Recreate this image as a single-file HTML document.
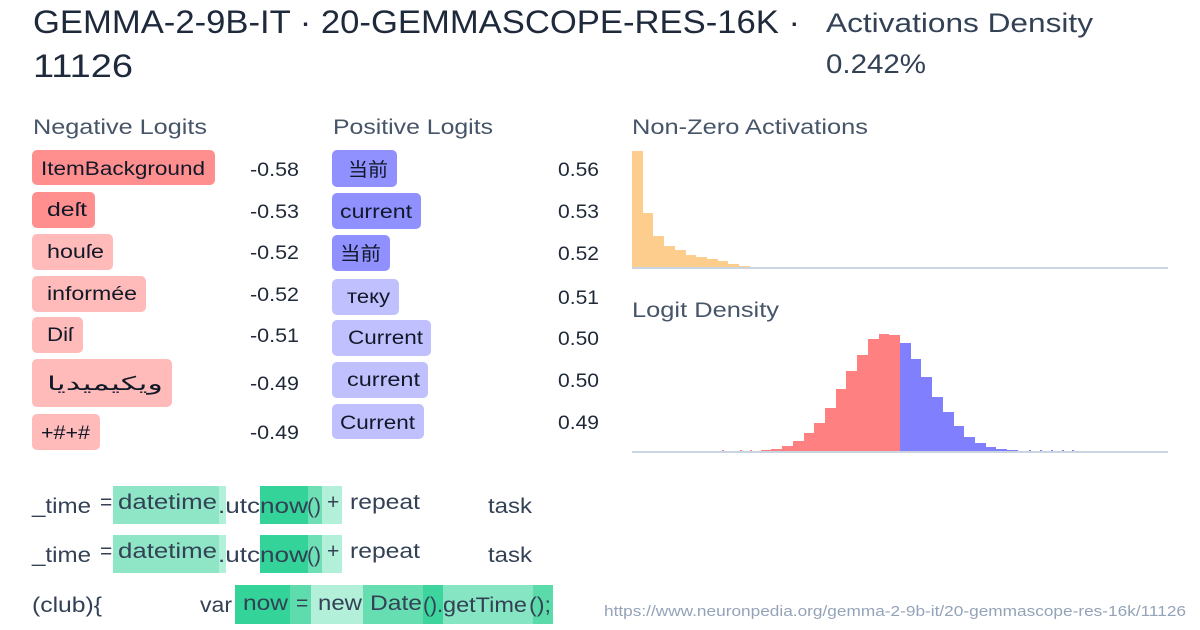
<!DOCTYPE html>
<html><head><meta charset="utf-8"><style>
html,body{margin:0;padding:0;background:#fff;width:1200px;height:630px;overflow:hidden}
svg{display:block}
text{font-family:"Liberation Sans","Noto Sans CJK SC","DejaVu Sans",sans-serif}
.t{fill:#1e293b}
.h{fill:#475569;font-size:21px}
.c{fill:#111827;font-size:19px}
.v{fill:#1f2937;font-size:19px}
.k{fill:#334155;font-size:21px}
</style></head><body>
<svg width="1200" height="630" viewBox="0 0 1200 630" xmlns="http://www.w3.org/2000/svg">
<text class="t" x="33" y="33" font-size="32" textLength="767" lengthAdjust="spacingAndGlyphs">GEMMA-2-9B-IT · 20-GEMMASCOPE-RES-16K ·</text>
<text class="t" x="33" y="77" font-size="32" textLength="100" lengthAdjust="spacingAndGlyphs">11126</text>
<text x="826" y="32" font-size="27" fill="#334155" textLength="267" lengthAdjust="spacingAndGlyphs">Activations Density</text>
<text x="826" y="73" font-size="27" fill="#334155" textLength="100" lengthAdjust="spacingAndGlyphs">0.242%</text>

<text class="h" x="33" y="134" textLength="174" lengthAdjust="spacingAndGlyphs">Negative Logits</text>
<text class="h" x="333" y="134" textLength="160" lengthAdjust="spacingAndGlyphs">Positive Logits</text>
<text class="h" x="632" y="134" textLength="236" lengthAdjust="spacingAndGlyphs">Non-Zero Activations</text>
<text class="h" x="632" y="317" textLength="147" lengthAdjust="spacingAndGlyphs">Logit Density</text>

<rect x="32" y="150" width="183" height="35" rx="5" fill="#ff8f8f"/>
<rect x="32" y="192" width="63" height="36" rx="5" fill="#ff8f8f"/>
<rect x="32" y="234" width="81" height="36" rx="5" fill="#ffbaba"/>
<rect x="32" y="276" width="114" height="36" rx="5" fill="#ffbaba"/>
<rect x="32" y="317" width="51" height="36" rx="5" fill="#ffbaba"/>
<rect x="32" y="359" width="140" height="48" rx="5" fill="#ffbaba"/>
<rect x="32" y="414" width="68" height="36" rx="5" fill="#ffbaba"/>
<text class="c" x="41" y="175" textLength="164" lengthAdjust="spacingAndGlyphs">ItemBackground</text>
<text class="c" x="47" y="216" textLength="40" lengthAdjust="spacingAndGlyphs">deſt</text>
<text class="c" x="47" y="258" textLength="57" lengthAdjust="spacingAndGlyphs">houſe</text>
<text class="c" x="47" y="300" textLength="90" lengthAdjust="spacingAndGlyphs">informée</text>
<text class="c" x="47" y="341" textLength="26" lengthAdjust="spacingAndGlyphs">Diſ</text>
<text class="c" x="47" y="390" textLength="116" lengthAdjust="spacingAndGlyphs">ويكيميديا</text>
<text class="c" x="41" y="439" textLength="49" lengthAdjust="spacingAndGlyphs">+#+#</text>
<g class="v">
<text x="250" y="176" textLength="49" lengthAdjust="spacingAndGlyphs">-0.58</text><text x="250" y="218" textLength="49" lengthAdjust="spacingAndGlyphs">-0.53</text><text x="250" y="259" textLength="49" lengthAdjust="spacingAndGlyphs">-0.52</text>
<text x="250" y="301" textLength="49" lengthAdjust="spacingAndGlyphs">-0.52</text><text x="250" y="342" textLength="49" lengthAdjust="spacingAndGlyphs">-0.51</text><text x="250" y="390" textLength="49" lengthAdjust="spacingAndGlyphs">-0.49</text><text x="250" y="439" textLength="49" lengthAdjust="spacingAndGlyphs">-0.49</text>
</g>

<rect x="332" y="150" width="65" height="37" rx="5" fill="#9090ff"/>
<rect x="332" y="193" width="89" height="36" rx="5" fill="#9090ff"/>
<rect x="332" y="235" width="58" height="36" rx="5" fill="#9090ff"/>
<rect x="332" y="279" width="67" height="36" rx="5" fill="#c0c0ff"/>
<rect x="332" y="320" width="99" height="36" rx="5" fill="#c0c0ff"/>
<rect x="332" y="362" width="96" height="36" rx="5" fill="#c0c0ff"/>
<rect x="332" y="404" width="92" height="35" rx="5" fill="#c0c0ff"/>
<text class="c" x="348" y="176" textLength="40" lengthAdjust="spacingAndGlyphs">当前</text>
<text class="c" x="340" y="218" textLength="72" lengthAdjust="spacingAndGlyphs">current</text>
<text class="c" x="340" y="260" textLength="41" lengthAdjust="spacingAndGlyphs">当前</text>
<text class="c" x="347" y="303" textLength="43" lengthAdjust="spacingAndGlyphs">теку</text>
<text class="c" x="348" y="344" textLength="75" lengthAdjust="spacingAndGlyphs">Current</text>
<text class="c" x="347" y="386" textLength="73" lengthAdjust="spacingAndGlyphs">current</text>
<text class="c" x="340" y="429" textLength="75" lengthAdjust="spacingAndGlyphs">Current</text>
<g class="v">
<text x="558" y="176" textLength="41" lengthAdjust="spacingAndGlyphs">0.56</text><text x="558" y="218" textLength="41" lengthAdjust="spacingAndGlyphs">0.53</text><text x="558" y="260" textLength="41" lengthAdjust="spacingAndGlyphs">0.52</text>
<text x="558" y="304" textLength="41" lengthAdjust="spacingAndGlyphs">0.51</text><text x="558" y="345" textLength="41" lengthAdjust="spacingAndGlyphs">0.50</text><text x="558" y="387" textLength="41" lengthAdjust="spacingAndGlyphs">0.50</text><text x="558" y="429" textLength="41" lengthAdjust="spacingAndGlyphs">0.49</text>
</g>

<g fill="#fdcd8e">
<rect x="632" y="151" width="11" height="117"/>
<rect x="643" y="213" width="10" height="55"/>
<rect x="653" y="236" width="11" height="32"/>
<rect x="664" y="246" width="11" height="22"/>
<rect x="675" y="250" width="11" height="18"/>
<rect x="686" y="255" width="10" height="13"/>
<rect x="696" y="257" width="11" height="11"/>
<rect x="707" y="259" width="11" height="9"/>
<rect x="718" y="261" width="10" height="7"/>
<rect x="728" y="264" width="11" height="4"/>
<rect x="739" y="266" width="11" height="2"/>
<rect x="750" y="267" width="21" height="1"/>
</g>
<rect x="632" y="267" width="536" height="2" fill="#cbd5e1"/>

<g fill="#ff8080">
<rect x="761" y="450" width="10" height="2"/>
<rect x="771" y="449" width="11" height="3"/>
<rect x="782" y="446" width="11" height="6"/>
<rect x="793" y="441" width="11" height="11"/>
<rect x="804" y="433" width="10" height="19"/>
<rect x="814" y="423" width="11" height="29"/>
<rect x="825" y="408" width="11" height="44"/>
<rect x="836" y="389" width="10" height="63"/>
<rect x="846" y="371" width="11" height="81"/>
<rect x="857" y="355" width="11" height="97"/>
<rect x="868" y="339" width="11" height="113"/>
<rect x="879" y="334" width="10" height="118"/>
<rect x="889" y="335" width="11" height="117"/>
<rect x="722" y="450" width="2" height="2"/><rect x="740" y="450" width="2" height="2"/><rect x="750" y="450" width="2" height="2"/>
</g>
<g fill="#8080ff">
<rect x="900" y="343" width="11" height="109"/>
<rect x="911" y="359" width="10" height="93"/>
<rect x="921" y="377" width="11" height="75"/>
<rect x="932" y="397" width="11" height="55"/>
<rect x="943" y="412" width="11" height="40"/>
<rect x="954" y="426" width="10" height="26"/>
<rect x="964" y="437" width="11" height="15"/>
<rect x="975" y="443" width="11" height="9"/>
<rect x="986" y="447" width="10" height="5"/>
<rect x="996" y="449" width="11" height="3"/>
<rect x="1007" y="450" width="11" height="2"/>
<rect x="1029" y="450" width="2" height="2"/><rect x="1040" y="450" width="2" height="2"/><rect x="1051" y="450" width="2" height="2"/><rect x="1062" y="450" width="2" height="2"/><rect x="1072" y="450" width="2" height="2"/>
</g>
<rect x="632" y="451" width="536" height="2" fill="#cbd5e1"/>

<g>
<rect x="113" y="486" width="106" height="38" fill="#8fe6c7"/>
<rect x="219" y="486" width="7" height="38" fill="#b3f0da"/>
<rect x="260" y="486" width="48" height="38" fill="#34d399"/>
<rect x="308" y="486" width="14" height="38" fill="#6fe0b6"/>
<rect x="322" y="486" width="20" height="38" fill="#b3f0da"/>
<rect x="113" y="535" width="106" height="38" fill="#8fe6c7"/>
<rect x="219" y="535" width="7" height="38" fill="#b3f0da"/>
<rect x="260" y="535" width="48" height="38" fill="#34d399"/>
<rect x="308" y="535" width="14" height="38" fill="#6fe0b6"/>
<rect x="322" y="535" width="20" height="38" fill="#b3f0da"/>
<rect x="235" y="585" width="55" height="39" fill="#34d399"/>
<rect x="290" y="585" width="21" height="39" fill="#5fdcae"/>
<rect x="311" y="585" width="52" height="39" fill="#b3f0da"/>
<rect x="363" y="585" width="60" height="39" fill="#67deb1"/>
<rect x="423" y="585" width="20" height="39" fill="#3dd49d"/>
<rect x="443" y="585" width="90" height="39" fill="#86e6c3"/>
<rect x="533" y="585" width="20" height="39" fill="#5bdbaa"/>
</g>
<g class="k">
<text x="32" y="513" textLength="59" lengthAdjust="spacingAndGlyphs">_time</text>
<text x="100" y="509">=</text>
<text x="118" y="509" textLength="99" lengthAdjust="spacingAndGlyphs">datetime</text>
<text x="218" y="513" textLength="42" lengthAdjust="spacingAndGlyphs">.utc</text>
<text x="260" y="513" textLength="48" lengthAdjust="spacingAndGlyphs">now</text>
<text x="307" y="513">()</text>
<text x="327" y="509">+</text>
<text x="350" y="509" textLength="70" lengthAdjust="spacingAndGlyphs">repeat</text>
<text x="488" y="513" textLength="44" lengthAdjust="spacingAndGlyphs">task</text>

<text x="32" y="562" textLength="59" lengthAdjust="spacingAndGlyphs">_time</text>
<text x="100" y="558">=</text>
<text x="118" y="558" textLength="99" lengthAdjust="spacingAndGlyphs">datetime</text>
<text x="218" y="562" textLength="42" lengthAdjust="spacingAndGlyphs">.utc</text>
<text x="260" y="562" textLength="48" lengthAdjust="spacingAndGlyphs">now</text>
<text x="307" y="562">()</text>
<text x="327" y="558">+</text>
<text x="350" y="558" textLength="70" lengthAdjust="spacingAndGlyphs">repeat</text>
<text x="488" y="562" textLength="44" lengthAdjust="spacingAndGlyphs">task</text>

<text x="32" y="612" textLength="70" lengthAdjust="spacingAndGlyphs">(club){</text>
<text x="200" y="612" textLength="32" lengthAdjust="spacingAndGlyphs">var</text>
<text x="243" y="610" textLength="45" lengthAdjust="spacingAndGlyphs">now</text>
<text x="296" y="610">=</text>
<text x="318" y="610" textLength="44" lengthAdjust="spacingAndGlyphs">new</text>
<text x="370" y="610" textLength="52" lengthAdjust="spacingAndGlyphs">Date</text>
<text x="423" y="612" textLength="20" lengthAdjust="spacingAndGlyphs">().</text>
<text x="443" y="612" textLength="84" lengthAdjust="spacingAndGlyphs">getTime</text>
<text x="529" y="612" textLength="22" lengthAdjust="spacingAndGlyphs">();</text>
</g>
<text x="604" y="616" font-size="15" fill="#94a3b8" textLength="582" lengthAdjust="spacingAndGlyphs">https://www.neuronpedia.org/gemma-2-9b-it/20-gemmascope-res-16k/11126</text>
</svg>
</body></html>
